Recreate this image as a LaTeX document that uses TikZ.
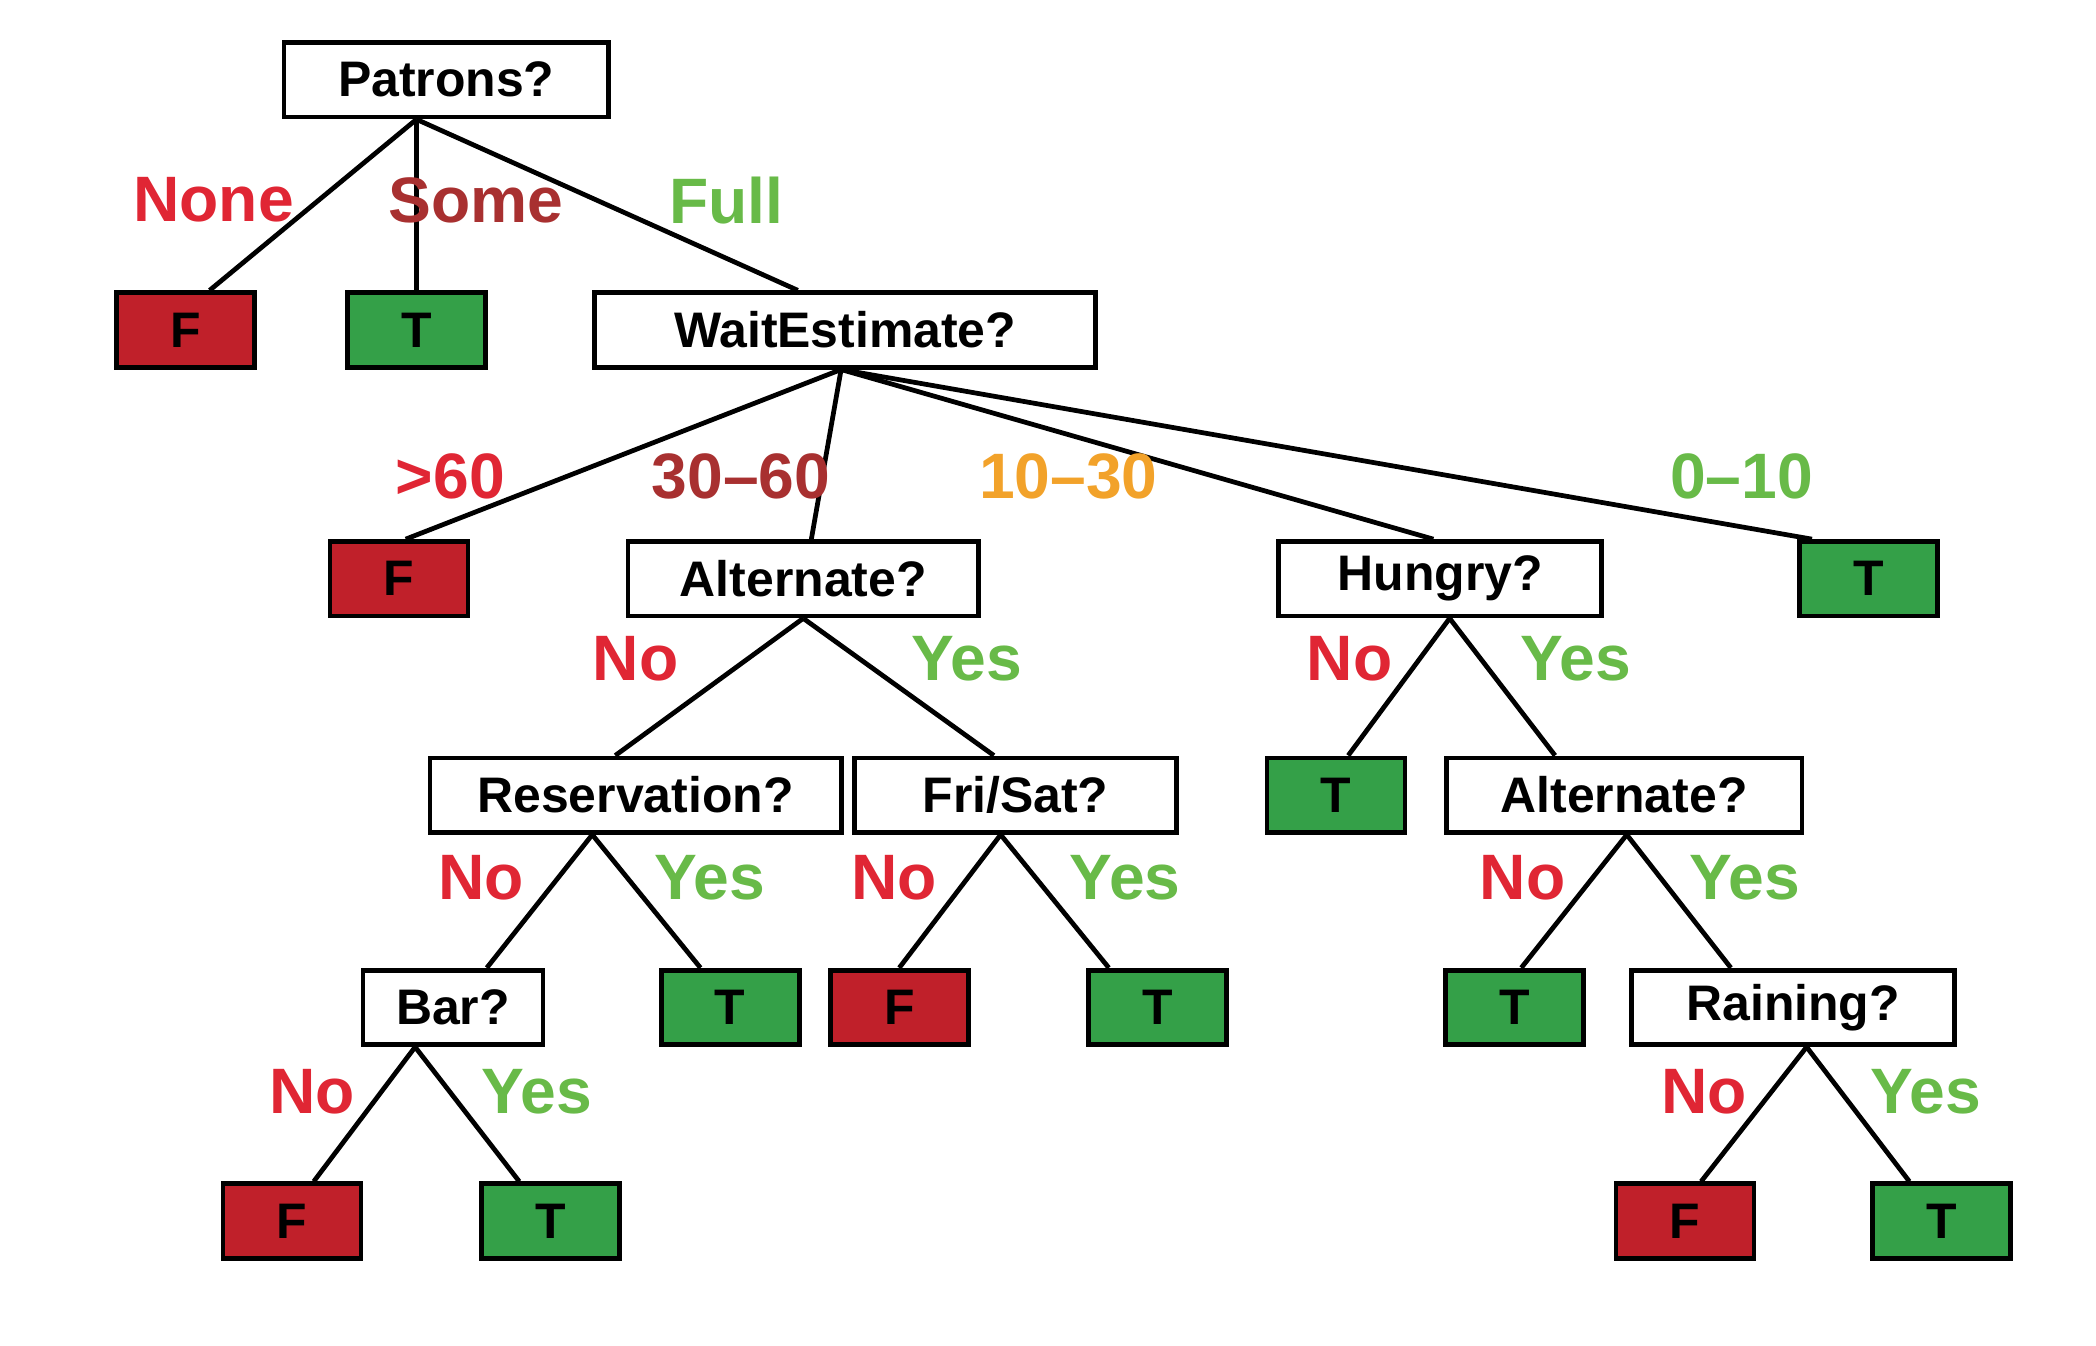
\documentclass[tikz,border=0pt]{standalone}
\usepackage{fontspec}
\setmainfont{Liberation Sans}
\usetikzlibrary{positioning,calc}
\definecolor{nored}{RGB}{224,38,52}
\definecolor{somebrown}{RGB}{168,48,48}
\definecolor{yesgreen}{RGB}{104,186,72}
\definecolor{midorange}{RGB}{242,162,42}
\definecolor{ffill}{RGB}{192,32,42}
\definecolor{tfill}{RGB}{52,160,72}
\tikzset{
  test/.style={draw, line width=1pt, inner sep=0pt, minimum height=0.55cm, font=\fontsize{10.5}{12}\selectfont\bfseries},
  leafF/.style={draw, line width=1pt, fill=ffill, minimum width=1.02cm, minimum height=0.55cm, inner sep=0pt, font=\fontsize{10.5}{12}\selectfont\bfseries},
  leafT/.style={leafF, fill=tfill},
  lab/.style={font=\fontsize{13.5}{15}\selectfont\bfseries},
  edge/.style={line width=1pt}
}
\begin{document}
\begin{tikzpicture}[x=0.01cm,y=-0.01cm]
\useasboundingbox (0,0) rectangle (1550,995);
% Tests
\node[test, minimum width=2.4cm] (pat) at (330,59) {Patrons?};
\node[test, minimum width=3.7cm] (wait) at (625,244) {WaitEstimate?};
\node[test, minimum width=2.59cm] (alt1) at (594,428) {Alternate?};
\node[test, minimum width=2.39cm] (hun) at (1065,428) {Hungry?};
\node[test, minimum width=3.04cm] (res) at (470,588) {Reservation?};
\node[test, minimum width=2.38cm] (fri) at (751,588) {Fri/Sat?};
\node[test, minimum width=2.63cm] (alt2) at (1201,588) {Alternate?};
\node[test, minimum width=1.33cm] (bar) at (335,745) {Bar?};
\node[test, minimum width=2.39cm] (rain) at (1326,745) {Raining?};
% Leaves
\node[leafF] (f1) at (137,244) {F};
\node[leafT] (t1) at (308,244) {T};
\node[leafF] (f2) at (295,428) {F};
\node[leafT] (t2) at (1382,428) {T};
\node[leafT] (t3) at (988,588) {T};
\node[leafT] (t4) at (540,745) {T};
\node[leafF] (f3) at (665,745) {F};
\node[leafT] (t5) at (856,745) {T};
\node[leafT] (t6) at (1120,745) {T};
\node[leafF] (f4) at (216,903) {F};
\node[leafT] (t7) at (407,903) {T};
\node[leafF] (f5) at (1246,903) {F};
\node[leafT] (t8) at (1436,903) {T};
% Edges
\draw[edge] ([xshift=-0.22cm]pat.south) -- ([xshift=0.18cm]f1.north);
\draw[edge] ([xshift=-0.22cm]pat.south) -- (t1.north);
\draw[edge] ([xshift=-0.22cm]pat.south) -- ([xshift=-0.35cm]wait.north);
\draw[edge] ([xshift=-0.03cm]wait.south) -- ([xshift=0.05cm]f2.north);
\draw[edge] ([xshift=-0.03cm]wait.south) -- ([xshift=0.06cm]alt1.north);
\draw[edge] ([xshift=-0.03cm]wait.south) -- ([xshift=-0.05cm]hun.north);
\draw[edge] ([xshift=-0.03cm]wait.south) -- ([xshift=-0.42cm]t2.north);
\draw[edge] (alt1.south) -- ([xshift=-0.15cm]res.north);
\draw[edge] (alt1.south) -- ([xshift=-0.16cm]fri.north);
\draw[edge] ([xshift=0.07cm]hun.south) -- ([xshift=0.09cm]t3.north);
\draw[edge] ([xshift=0.07cm]hun.south) -- ([xshift=-0.51cm]alt2.north);
\draw[edge] ([xshift=-0.32cm]res.south) -- ([xshift=0.25cm]bar.north);
\draw[edge] ([xshift=-0.32cm]res.south) -- ([xshift=-0.22cm]t4.north);
\draw[edge] ([xshift=-0.11cm]fri.south) -- (f3.north);
\draw[edge] ([xshift=-0.11cm]fri.south) -- ([xshift=-0.36cm]t5.north);
\draw[edge] ([xshift=0.02cm]alt2.south) -- ([xshift=0.05cm]t6.north);
\draw[edge] ([xshift=0.02cm]alt2.south) -- ([xshift=-0.46cm]rain.north);
\draw[edge] ([xshift=-0.28cm]bar.south) -- ([xshift=0.16cm]f4.north);
\draw[edge] ([xshift=-0.28cm]bar.south) -- ([xshift=-0.23cm]t7.north);
\draw[edge] ([xshift=0.1cm]rain.south) -- ([xshift=0.12cm]f5.north);
\draw[edge] ([xshift=0.1cm]rain.south) -- ([xshift=-0.24cm]t8.north);
% Labels
\node[lab, text=nored] (lnone) at (158,148) {None};
\node[lab, text=somebrown] (lsome) at (352,148) {Some};
\node[lab, text=yesgreen] (lfull) at (537,148) {Full};
\node[lab, text=nored] (lgt) at (333,352) {>60};
\node[lab, text=somebrown] (l3060) at (548,352) {30--60};
\node[lab, text=midorange] (l1030) at (790,352) {10--30};
\node[lab, text=yesgreen] (l010) at (1288,352) {0--10};
\node[lab, text=nored] at (470,487) {No};
\node[lab, text=yesgreen] at (715,487) {Yes};
\node[lab, text=nored] at (998,487) {No};
\node[lab, text=yesgreen] at (1165,487) {Yes};
\node[lab, text=nored] at (356,649) {No};
\node[lab, text=yesgreen] at (525,649) {Yes};
\node[lab, text=nored] at (661,649) {No};
\node[lab, text=yesgreen] at (832,649) {Yes};
\node[lab, text=nored] at (1126,649) {No};
\node[lab, text=yesgreen] at (1290,649) {Yes};
\node[lab, text=nored] at (231,807) {No};
\node[lab, text=yesgreen] at (397,807) {Yes};
\node[lab, text=nored] at (1260,807) {No};
\node[lab, text=yesgreen] at (1424,807) {Yes};
\end{tikzpicture}
\end{document}
